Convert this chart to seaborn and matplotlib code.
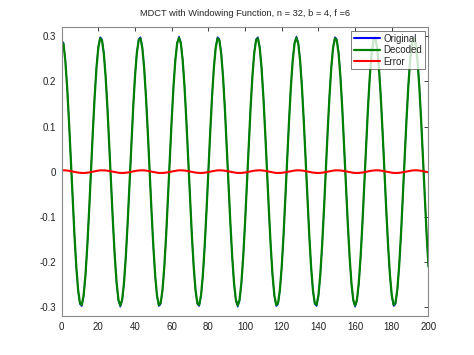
import numpy as np
import pandas as pd
import matplotlib
matplotlib.use("Agg")
import matplotlib.pyplot as plt
import seaborn as sns

# sample index 1..200
samples = list(range(1, 201))

# original signal (one row = 8 samples)
original = [
    0.2871, 0.2494, 0.1903, 0.1148, 0.0294, -0.0585, -0.1414, -0.2121,
    -0.2646, -0.2942, -0.2986, -0.2772, -0.2319, -0.1667, -0.0871, 0.0000,
    0.0871, 0.1667, 0.2319, 0.2772, 0.2986, 0.2942, 0.2646, 0.2121,
    0.1414, 0.0585, -0.0294, -0.1148, -0.1903, -0.2494, -0.2871, -0.3000,
    -0.2871, -0.2494, -0.1903, -0.1148, -0.0294, 0.0585, 0.1414, 0.2121,
    0.2646, 0.2942, 0.2986, 0.2772, 0.2319, 0.1667, 0.0871, 0.0000,
    -0.0871, -0.1667, -0.2319, -0.2772, -0.2986, -0.2942, -0.2646, -0.2121,
    -0.1414, -0.0585, 0.0294, 0.1148, 0.1903, 0.2494, 0.2871, 0.3000,
    0.2871, 0.2494, 0.1903, 0.1148, 0.0294, -0.0585, -0.1414, -0.2121,
    -0.2646, -0.2942, -0.2986, -0.2772, -0.2319, -0.1667, -0.0871, 0.0000,
    0.0871, 0.1667, 0.2319, 0.2772, 0.2986, 0.2942, 0.2646, 0.2121,
    0.1414, 0.0585, -0.0294, -0.1148, -0.1903, -0.2494, -0.2871, -0.3000,
    -0.2871, -0.2494, -0.1903, -0.1148, -0.0294, 0.0585, 0.1414, 0.2121,
    0.2646, 0.2942, 0.2986, 0.2772, 0.2319, 0.1667, 0.0871, 0.0000,
    -0.0871, -0.1667, -0.2319, -0.2772, -0.2986, -0.2942, -0.2646, -0.2121,
    -0.1414, -0.0585, 0.0294, 0.1148, 0.1903, 0.2494, 0.2871, 0.3000,
    0.2871, 0.2494, 0.1903, 0.1148, 0.0294, -0.0585, -0.1414, -0.2121,
    -0.2646, -0.2942, -0.2986, -0.2772, -0.2319, -0.1667, -0.0871, 0.0000,
    0.0871, 0.1667, 0.2319, 0.2772, 0.2986, 0.2942, 0.2646, 0.2121,
    0.1414, 0.0585, -0.0294, -0.1148, -0.1903, -0.2494, -0.2871, -0.3000,
    -0.2871, -0.2494, -0.1903, -0.1148, -0.0294, 0.0585, 0.1414, 0.2121,
    0.2646, 0.2942, 0.2986, 0.2772, 0.2319, 0.1667, 0.0871, 0.0000,
    -0.0871, -0.1667, -0.2319, -0.2772, -0.2986, -0.2942, -0.2646, -0.2121,
    -0.1414, -0.0585, 0.0294, 0.1148, 0.1903, 0.2494, 0.2871, 0.3000,
    0.2871, 0.2494, 0.1903, 0.1148, 0.0294, -0.0585, -0.1414, -0.2121,
]

# reconstruction error (original - decoded), small ripple around zero
error = [
    0.0030, 0.0029, 0.0025, 0.0019, 0.0011, 0.0003, -0.0006, -0.0014,
    -0.0021, -0.0026, -0.0029, -0.0030, -0.0028, -0.0023, -0.0017, -0.0009,
    0.0000, 0.0009, 0.0017, 0.0023, 0.0028, 0.0030, 0.0029, 0.0026,
    0.0021, 0.0014, 0.0006, -0.0003, -0.0011, -0.0019, -0.0025, -0.0029,
    -0.0030, -0.0029, -0.0025, -0.0019, -0.0011, -0.0003, 0.0006, 0.0014,
    0.0021, 0.0026, 0.0029, 0.0030, 0.0028, 0.0023, 0.0017, 0.0009,
    0.0000, -0.0009, -0.0017, -0.0023, -0.0028, -0.0030, -0.0029, -0.0026,
    -0.0021, -0.0014, -0.0006, 0.0003, 0.0011, 0.0019, 0.0025, 0.0029,
    0.0030, 0.0029, 0.0025, 0.0019, 0.0011, 0.0003, -0.0006, -0.0014,
    -0.0021, -0.0026, -0.0029, -0.0030, -0.0028, -0.0023, -0.0017, -0.0009,
    0.0000, 0.0009, 0.0017, 0.0023, 0.0028, 0.0030, 0.0029, 0.0026,
    0.0021, 0.0014, 0.0006, -0.0003, -0.0011, -0.0019, -0.0025, -0.0029,
    -0.0030, -0.0029, -0.0025, -0.0019, -0.0011, -0.0003, 0.0006, 0.0014,
    0.0021, 0.0026, 0.0029, 0.0030, 0.0028, 0.0023, 0.0017, 0.0009,
    0.0000, -0.0009, -0.0017, -0.0023, -0.0028, -0.0030, -0.0029, -0.0026,
    -0.0021, -0.0014, -0.0006, 0.0003, 0.0011, 0.0019, 0.0025, 0.0029,
    0.0030, 0.0029, 0.0025, 0.0019, 0.0011, 0.0003, -0.0006, -0.0014,
    -0.0021, -0.0026, -0.0029, -0.0030, -0.0028, -0.0023, -0.0017, -0.0009,
    0.0000, 0.0009, 0.0017, 0.0023, 0.0028, 0.0030, 0.0029, 0.0026,
    0.0021, 0.0014, 0.0006, -0.0003, -0.0011, -0.0019, -0.0025, -0.0029,
    -0.0030, -0.0029, -0.0025, -0.0019, -0.0011, -0.0003, 0.0006, 0.0014,
    0.0021, 0.0026, 0.0029, 0.0030, 0.0028, 0.0023, 0.0017, 0.0009,
    0.0000, -0.0009, -0.0017, -0.0023, -0.0028, -0.0030, -0.0029, -0.0026,
    -0.0021, -0.0014, -0.0006, 0.0003, 0.0011, 0.0019, 0.0025, 0.0029,
    0.0030, 0.0029, 0.0025, 0.0019, 0.0011, 0.0003, -0.0006, -0.0014,
]

decoded = list(np.array(original) - np.array(error))

x_ticks = [0, 20, 40, 60, 80, 100, 120, 140, 160, 180, 200]
y_ticks = [-0.3, -0.2, -0.1, 0, 0.1, 0.2, 0.3]
y_tick_labels = ["-0.3", "-0.2", "-0.1", "0", "0.1", "0.2", "0.3"]

sns.set_style("white")
plt.rcParams['font.family'] = ['Liberation Sans', 'DejaVu Sans']

fig = plt.figure(figsize=(4.74, 3.55), dpi=100)
ax = fig.add_axes([0.130, 0.110, 0.774, 0.813])

# the original sits under the decoded curve, drawn a bit thinner so it hides
sns.lineplot(ax=ax, x=samples, y=original, color=(0, 0, 1), linewidth=1.5, label="Original")
ax.lines[-1].set_linewidth(0.9)
sns.lineplot(ax=ax, x=samples, y=decoded, color=(0, 0.5, 0), linewidth=1.6, label="Decoded")
sns.lineplot(ax=ax, x=samples, y=error, color=(1, 0, 0), linewidth=1.5, label="Error")

ax.set_xlim(0, 200)
ax.set_ylim(-0.32, 0.32)
ax.set_xticks(x_ticks)
ax.set_yticks(y_ticks)
ax.set_yticklabels(y_tick_labels)
ax.tick_params(axis='both', direction='in', length=3, width=0.6, labelsize=7,
               top=True, right=True, colors='#222222', pad=4)
for s in ax.spines.values():
    s.set_color('#888888')
    s.set_linewidth(0.8)

ax.set_title("MDCT with Windowing Function, n = 32, b = 4, f =6", fontsize=6.7, pad=8)

leg = ax.legend(loc='upper right', fontsize=7, frameon=True, fancybox=False,
                handlelength=2.6, borderaxespad=0.35, borderpad=0.3,
                labelspacing=0.15, handletextpad=0.4)
leg.get_frame().set_edgecolor('#444444')
leg.get_frame().set_linewidth(0.6)
leg.get_lines()[0].set_linewidth(1.5)

fig.savefig("out.png", dpi=100)
